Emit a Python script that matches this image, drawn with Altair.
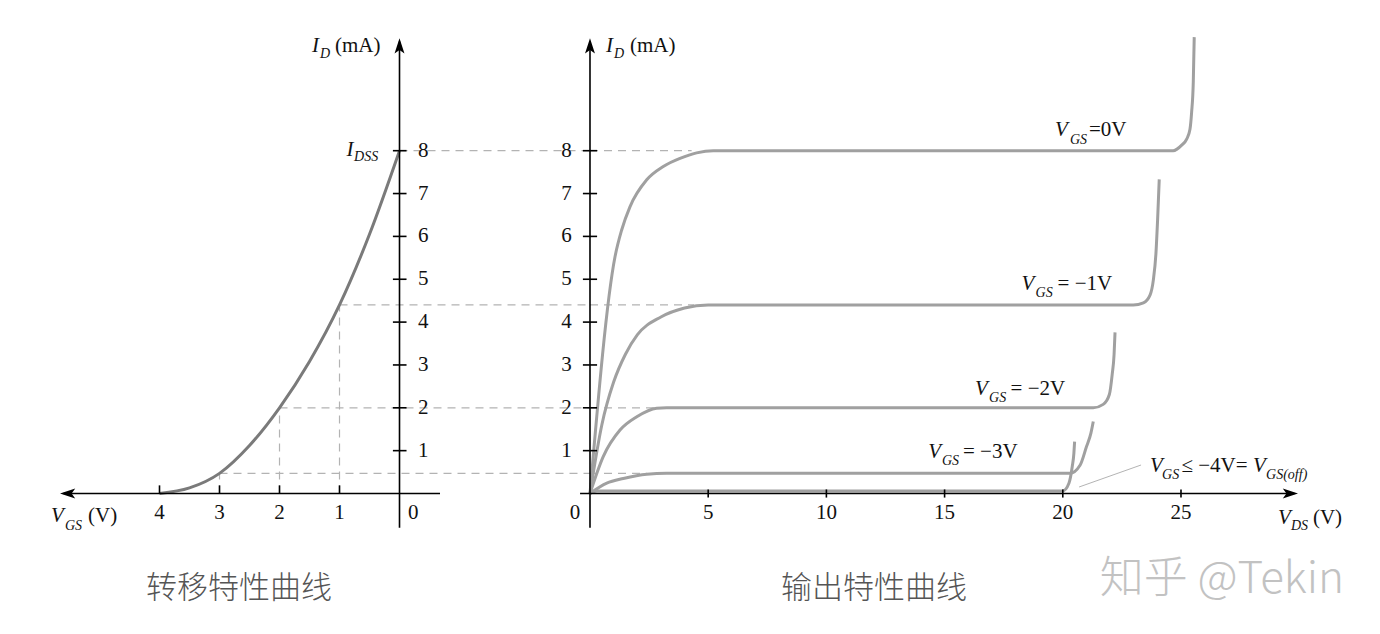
import altair as alt
import pandas as pd

# ---------------- data ----------------
# Transfer characteristic: I_D (mA) vs V_GS (V)
tr_vgs = [-4.0, -3.5, -3.0, -2.5, -2.0, -1.5, -1.0, -0.5, 0.0]
tr_id = [0.0, 0.13, 0.47, 1.12, 2.0, 3.08, 4.4, 6.05, 8.0]

# Output characteristics: I_D (mA) vs V_DS (V), one curve per V_GS
vds_0 = [0, 1.06, 1.34, 1.69, 2.40, 3.10, 3.81, 4.51, 5.22, 24.67, 25.03, 25.24, 25.38, 25.45, 25.52, 25.56]
id_0 = [0, 5.53, 6.15, 6.69, 7.32, 7.63, 7.82, 7.95, 8.0, 8.0, 8.13, 8.27, 8.5, 8.9, 9.6, 10.65]
vds_1 = [0, 0.5, 1.0, 1.5, 2.0, 3.0, 4.0, 5.0, 22.98, 23.41, 23.69, 23.83, 23.94, 24.01, 24.08]
id_1 = [0, 1.6, 2.6, 3.25, 3.7, 4.12, 4.33, 4.4, 4.4, 4.45, 4.63, 4.98, 5.6, 6.38, 7.33]
vds_2 = [0, 0.56, 1.27, 1.98, 2.82, 3.24, 21.29, 21.71, 21.97, 22.09, 22.17, 22.21]
id_2 = [0, 0.86, 1.48, 1.79, 1.99, 2.0, 2.0, 2.08, 2.31, 2.78, 3.25, 3.76]
vds_3 = [0, 0.71, 1.41, 2.40, 3.24, 20.30, 20.73, 21.0, 21.19, 21.29]
id_3 = [0, 0.24, 0.35, 0.45, 0.47, 0.47, 0.66, 1.09, 1.41, 1.68]
vds_4 = [0, 0.3, 20.0, 20.26, 20.40, 20.47, 20.50]
id_4 = [0, 0.06, 0.06, 0.24, 0.63, 0.94, 1.21]

# Operating points projected between the panels (dashed lines)
proj_vgs = [0.0, -1.0, -2.0, -3.0]
proj_id = [8.0, 4.4, 2.0, 0.47]
proj_vds_end = [4.3, 4.4, 2.7, 2.4]

# Ticks and labels
id_ticks = [1, 2, 3, 4, 5, 6, 7, 8]
vgs_ticks = [-1, -2, -3, -4]
vgs_tick_labels = ["1", "2", "3", "4"]
vds_ticks = [5, 10, 15, 20, 25]

# ---------------- scales (plot area = whole page minus 8px margin) ----------------
W, H = 1364, 618
XL = alt.Scale(domain=[-6.525, 16.208], nice=False, zero=False)
XR = alt.Scale(domain=[-24.619, 33.080], nice=False, zero=False)
YS = alt.Scale(domain=[-3.092, 11.330], nice=False, zero=False)

SERIF = "Liberation Serif"
CJK = "Noto Sans CJK SC"
UP = "M0,0L-0.62,1.9L0,1.45L0.62,1.9Z"
LEFT = "M0,0L1.9,-0.62L1.45,0L1.9,0.62Z"
RIGHT = "M0,0L-1.9,-0.62L-1.45,0L-1.9,0.62Z"


def enc_xy(sx):
    return dict(x=alt.X("x:Q", scale=sx, axis=None), y=alt.Y("y:Q", scale=YS, axis=None))


def rules(df, sx, color, width, dash=None):
    kw = dict(color=color, strokeWidth=width)
    if dash:
        kw["strokeDash"] = dash
    return alt.Chart(df).mark_rule(**kw).encode(
        x=alt.X("x:Q", scale=sx, axis=None), x2="x2:Q",
        y=alt.Y("y:Q", scale=YS, axis=None), y2="y2:Q")


def texts(df, sx, size, style="normal", align="left", baseline="alphabetic",
          font=SERIF, color="#111111", weight="normal"):
    return alt.Chart(df).mark_text(font=font, fontSize=size, fontStyle=style,
                                   align=align, baseline=baseline, color=color,
                                   fontWeight=weight).encode(text="text:N", **enc_xy(sx))


def arrow(x, y, shape, sx):
    return alt.Chart(pd.DataFrame({"x": [x], "y": [y]})).mark_point(
        shape=shape, filled=True, size=256, color="black", opacity=1, strokeWidth=0
    ).encode(**enc_xy(sx))


# ---------------- left panel ----------------
seg = [dict(x=-5.60, y=0, x2=0.675, y2=0), dict(x=0, y=-0.80, x2=0, y2=10.55)]
seg += [dict(x=-0.11, y=k, x2=0.117, y2=k) for k in id_ticks]
seg += [dict(x=v, y=0, x2=v, y2=0.19) for v in vgs_ticks]
l_axes = rules(pd.DataFrame(seg), XL, "black", 1.6)

dl = []
for v, i in zip(proj_vgs, proj_id):
    dl.append(dict(x=v, y=i, x2=3.175, y2=i))
    if v != 0:
        dl.append(dict(x=v, y=0, x2=v, y2=i))
l_dash = rules(pd.DataFrame(dl), XL, "#b3b3b3", 1.2, [8, 6])

l_curve = alt.Chart(pd.DataFrame({"x": tr_vgs, "y": tr_id})).mark_line(
    interpolate="monotone", color="#7a7a7a", strokeWidth=3).encode(**enc_xy(XL))

l_ticklab = pd.DataFrame(
    [dict(x=0.397, y=k, text=str(k)) for k in id_ticks]
    + [dict(x=v, y=-0.462, text=t) for v, t in zip(vgs_ticks, vgs_tick_labels)]
    + [dict(x=0.23, y=-0.462, text="0")])
l_ticks_t = texts(l_ticklab, XL, 21, align="center", baseline="middle")

l_it = pd.DataFrame([dict(x=-1.458, y=10.30, text="I"), dict(x=-0.883, y=7.876, text="I"),
                     dict(x=-5.808, y=-0.665, text="V")])
l_sub = pd.DataFrame([dict(x=-1.325, y=10.16, text="D"), dict(x=-0.758, y=7.76, text="DSS"),
                      dict(x=-5.575, y=-0.852, text="GS")])
l_rm = pd.DataFrame([dict(x=-1.075, y=10.30, text="(mA)"), dict(x=-5.192, y=-0.665, text="(V)")])
l_cap = pd.DataFrame([dict(x=-2.675, y=-2.24, text="转移特性曲线")])

left = alt.layer(
    l_dash, l_curve, l_axes,
    arrow(0, 10.623, UP, XL), arrow(-5.658, 0, LEFT, XL),
    l_ticks_t,
    texts(l_it, XL, 21, "italic"), texts(l_sub, XL, 14, "italic"), texts(l_rm, XL, 21),
    texts(l_cap, XL, 31, align="center", baseline="middle", font=CJK, color="#555555", weight=300),
)

# ---------------- right panel ----------------
seg = [dict(x=-0.42, y=0, x2=29.8, y2=0), dict(x=0, y=-0.80, x2=0, y2=10.55)]
seg += [dict(x=-0.3, y=k, x2=0.3, y2=k) for k in id_ticks]
seg += [dict(x=v, y=-0.095, x2=v, y2=0.095) for v in vds_ticks]
r_axes = rules(pd.DataFrame(seg), XR, "black", 1.6)

r_dash = rules(pd.DataFrame([dict(x=0, y=i, x2=e, y2=i) for i, e in zip(proj_id, proj_vds_end)]),
               XR, "#b3b3b3", 1.2, [8, 6])

out_names = ["0V", "-1V", "-2V", "-3V", "-4V"]
rows = []
for name, xs, ys in zip(out_names,
                        [vds_0, vds_1, vds_2, vds_3, vds_4],
                        [id_0, id_1, id_2, id_3, id_4]):
    for j, (a, b) in enumerate(zip(xs, ys)):
        rows.append(dict(curve=name, i=j, x=a, y=b))
r_curves = alt.Chart(pd.DataFrame(rows)).mark_line(
    interpolate="monotone", color="#a0a0a0", strokeWidth=3).encode(
    detail="curve:N", order="i:Q", **enc_xy(XR))

r_lead = rules(pd.DataFrame([dict(x=20.69, y=0.152, x2=23.31, y2=0.665)]), XR, "#aaaaaa", 0.9)

r_ticklab = pd.DataFrame(
    [dict(x=-0.99, y=k, text=str(k)) for k in id_ticks]
    + [dict(x=v, y=-0.462, text=str(v)) for v in vds_ticks]
    + [dict(x=-0.635, y=-0.462, text="0")])
r_ticks_t = texts(r_ticklab, XR, 21, align="center", baseline="middle")

r_it = pd.DataFrame([
    dict(x=0.677, y=10.30, text="I"), dict(x=29.10, y=-0.712, text="V"),
    dict(x=19.67, y=8.343, text="V"), dict(x=18.25, y=4.749, text="V"),
    dict(x=16.29, y=2.299, text="V"), dict(x=14.31, y=0.821, text="V"),
    dict(x=23.69, y=0.502, text="V"), dict(x=28.05, y=0.502, text="V")])
r_sub = pd.DataFrame([
    dict(x=1.015, y=10.16, text="D"), dict(x=29.65, y=-0.852, text="DS"),
    dict(x=20.30, y=8.156, text="GS"), dict(x=18.85, y=4.586, text="GS"),
    dict(x=16.88, y=2.147, text="GS"), dict(x=14.89, y=0.665, text="GS"),
    dict(x=24.20, y=0.338, text="GS"), dict(x=28.60, y=0.338, text="GS(off)")])
r_rm = pd.DataFrame([
    dict(x=1.692, y=10.30, text="(mA)"), dict(x=30.58, y=-0.712, text="(V)"),
    dict(x=21.11, y=8.343, text="=0V"), dict(x=19.78, y=4.749, text="= −1V"),
    dict(x=17.79, y=2.299, text="= −2V"), dict(x=15.78, y=0.821, text="= −3V"),
    dict(x=25.02, y=0.502, text="≤ −4V=")])
r_cap = pd.DataFrame([dict(x=12.01, y=-2.24, text="输出特性曲线")])
r_mark = pd.DataFrame([dict(x=26.73, y=-2.02, text="知乎 @Tekin")])

right = alt.layer(
    r_dash, r_curves, r_lead, r_axes,
    arrow(0, 10.623, UP, XR), arrow(29.95, 0, RIGHT, XR),
    r_ticks_t,
    texts(r_it, XR, 21, "italic"), texts(r_sub, XR, 14, "italic"), texts(r_rm, XR, 21),
    texts(r_cap, XR, 31, align="center", baseline="middle", font=CJK, color="#555555", weight=300),
    texts(r_mark, XR, 44, align="center", baseline="middle", font=CJK, color="#c2c2c2", weight=300),
)

chart = alt.layer(left, right).resolve_scale(x="independent").properties(
    width=W, height=H, autosize=alt.AutoSizeParams(type="none"), padding=0
).configure_view(stroke=None)

chart.save("out.html", embed_options={"renderer": "svg", "actions": False})
